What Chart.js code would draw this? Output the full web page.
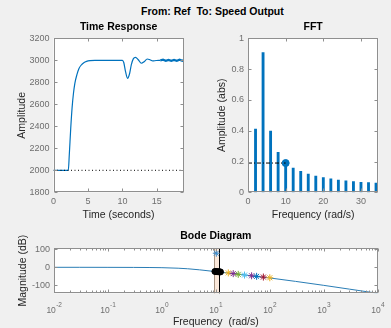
<!DOCTYPE html>
<html>
<head>
<meta charset="utf-8">
<script src="https://cdn.jsdelivr.net/npm/chart.js@4.4.1/dist/chart.umd.min.js"></script>
<style>
  body { margin: 0; background: #f0f0f0; width: 391px; height: 328px; overflow: hidden; position: relative; }
  canvas { position: absolute; }
  #sup { position: absolute; left: 141px; top: 4px; font: bold 10.5px "Liberation Sans", Arial, sans-serif; line-height: 14px; white-space: pre; color: #000; }
</style>
</head>
<body>
<div id="sup">From: Ref  To: Speed Output</div>
<canvas id="timeChart" width="192" height="224" style="left:0;top:0"></canvas>
<canvas id="fftChart" width="196" height="224" style="left:195px;top:0"></canvas>
<canvas id="bodeChart" width="391" height="103" style="left:0;top:225px"></canvas>
<script>
// time response
const timeSec = [0, 2.15, 2.3, 2.5, 2.7, 2.9, 3.1, 3.4, 3.7, 4.0, 4.4, 4.8, 5.3, 6.0, 10.0, 10.2, 10.45, 10.75, 11.05, 11.3, 11.6, 11.9, 12.3, 12.75, 13.2, 13.6, 14.0, 14.4, 14.9, 15.5];
const timeAmp = [2000, 2000, 2150, 2380, 2570, 2700, 2790, 2870, 2925, 2955, 2978, 2990, 2997, 3000, 3000, 2980, 2900, 2836, 2880, 2960, 3015, 3027, 3005, 2973, 2990, 3012, 3005, 2994, 2998, 3000];
const tailSec = [15.5, 15.9, 16.3, 16.7, 17.1, 17.5, 17.9, 18.3, 18.7, 18.9];
const tailAmp = [3000, 3005, 2996, 3004, 2996, 3004, 2996, 3005, 2995, 3000];
const refSec = [0, 18.9];
const refAmp = [2000, 2000];
const timeTicksX = [0, 5, 10, 15];
const timeTicksY = [1800, 2000, 2200, 2400, 2600, 2800, 3000, 3200];

// fft
const fftFreq = [2, 4, 6, 8, 10, 12, 14, 16, 18, 20, 22, 24, 26, 28, 30, 32, 34];
const fftAmp = [0.41, 0.908, 0.397, 0.26, 0.19, 0.158, 0.136, 0.119, 0.106, 0.095, 0.087, 0.08, 0.074, 0.069, 0.065, 0.063, 0.06];
const cursorFreq = [0, 10];
const cursorAmp = [0.19, 0.19];
const fftTicksX = [0, 10, 20, 30];
const fftTicksY = [0, 0.2, 0.4, 0.6, 0.8, 1];

// bode
const bodeFreq = [0.01, 0.03, 0.1, 0.3, 0.6, 1, 2, 3, 5, 10, 20, 30, 50, 100, 300, 1000, 3000, 10000];
const bodeMag = [0, 0, -0.2, -0.6, -1.2, -2, -5, -8, -14, -24, -34, -40, -49, -59, -78, -100, -121, -144];
const blobFreq = [9.6, 10.1, 10.6, 11.1, 11.6, 12.2];
const blobMag = [-23, -23.5, -24, -24.5, -25, -25.5];
const starFreq = [17, 21, 26, 34, 46, 57, 76, 100];
const starMag = [-31, -35, -39, -43, -47, -50, -54, -58];
const starColors = ['#EDB120', '#7E2F8E', '#77AC30', '#4DBEEE', '#7E2F8E', '#0072BD', '#A2142F', '#EDB120'];
const peakFreq = [10.2];
const peakMag = [78];
const bandFreq = [9.3, 11.4];
const bodeExponents = [-2, -1, 0, 1, 2, 3, 4];
const bodeTicksY = [-100, 0, 100];

const family = '"Liberation Sans", Arial, Helvetica, sans-serif';
const tickColor = '#6e6e6e';
const boxColor = '#8f8f8f';
const labelColor = '#262626';
const lineBlue = '#0072BD';
Chart.defaults.font.family = family;
Chart.defaults.animation = false;

const pts = (xs, ys) => xs.map((x, i) => ({ x: x, y: ys[i] }));

// white axes background, box and inward ticks like matlab
const axesBox = {
  id: 'axesBox',
  beforeDraw(chart) {
    const { ctx, chartArea: a } = chart;
    ctx.save();
    ctx.fillStyle = '#fff';
    ctx.fillRect(a.left, a.top, a.width, a.height);
    ctx.restore();
  },
  afterDraw(chart, args, opts) {
    const { ctx, chartArea: a, scales } = chart;
    const L = Math.round(a.left) + 0.5, R = Math.round(a.right) - 0.5;
    const T = Math.round(a.top) + 0.5, B = Math.round(a.bottom) - 0.5;
    ctx.save();
    ctx.strokeStyle = boxColor;
    ctx.lineWidth = 1;
    ctx.strokeRect(L, T, R - L, B - T);
    const seg = (x1, y1, x2, y2) => { ctx.beginPath(); ctx.moveTo(x1, y1); ctx.lineTo(x2, y2); ctx.stroke(); };
    const xTick = (v, len) => {
      const px = Math.round(scales.x.getPixelForValue(v)) + 0.5;
      seg(px, B, px, B - len); seg(px, T, px, T + len);
    };
    scales.x.ticks.forEach(t => xTick(t.value, 3));
    (opts.minorX || []).forEach(v => xTick(v, 2));
    scales.y.ticks.forEach(t => {
      const py = Math.round(scales.y.getPixelForValue(t.value)) + 0.5;
      seg(L, py, L + 3, py); seg(R, py, R - 3, py);
    });
    ctx.restore();
  }
};
Chart.register(axesBox);

const titleOpts = (text, top, bottom) => ({
  display: true, text: text, color: '#000', fullSize: false,
  font: { size: 10.5, weight: 'bold' }, padding: { top: top, bottom: bottom }
});
const axisTitle = (text, pad) => ({ display: true, text: text, color: labelColor, font: { size: 10.5 }, padding: pad });
const tickOpts = { color: tickColor, font: { size: 9 }, padding: 4, callback: v => String(v) };
const noGrid = { display: false, drawTicks: false };

new Chart(document.getElementById('timeChart'), {
  type: 'line',
  data: {
    datasets: [
      { data: pts(refSec, refAmp), borderColor: '#000', borderWidth: 1, borderDash: [1, 2.5], pointRadius: 0 },
      { data: pts(timeSec, timeAmp), borderColor: lineBlue, borderWidth: 1.2, pointRadius: 0, cubicInterpolationMode: 'monotone' },
      { data: pts(tailSec, tailAmp), borderColor: lineBlue, borderWidth: 2.2, pointRadius: 0 },
    ],
  },
  options: {
    responsive: false,
    layout: { padding: { right: 8.3 } },
    plugins: { legend: { display: false }, tooltip: { enabled: false }, title: titleOpts('Time Response', 21, 4.7) },
    scales: {
      x: {
        type: 'linear', min: 0, max: 18.9,
        afterBuildTicks: s => { s.ticks = timeTicksX.map(v => ({ value: v })); },
        afterFit: s => { s.height = 31.7; },
        ticks: tickOpts, grid: noGrid, border: { display: false },
        title: axisTitle('Time (seconds)', { top: 0, bottom: 2.2 }),
      },
      y: {
        min: 1800, max: 3200,
        afterBuildTicks: s => { s.ticks = timeTicksY.map(v => ({ value: v })); },
        afterFit: s => { s.width = 53.5; },
        ticks: tickOpts, grid: noGrid, border: { display: false },
        title: axisTitle('Amplitude', { top: 15.4, bottom: 0 }),
      },
    },
  },
});

new Chart(document.getElementById('fftChart'), {
  type: 'bar',
  data: {
    datasets: [
      { type: 'line', data: pts(cursorFreq, cursorAmp), borderColor: '#000', borderWidth: 1, borderDash: [4, 2, 1, 2], pointRadius: 0 },
      { type: 'line', data: pts([cursorFreq[1]], [cursorAmp[1]]), showLine: false, pointRadius: 3.5, backgroundColor: lineBlue, borderColor: lineBlue },
      { type: 'bar', data: pts(fftFreq, fftAmp), backgroundColor: lineBlue, barThickness: 2.2 },
    ],
  },
  options: {
    responsive: false,
    layout: { padding: { right: 12.7 } },
    plugins: { legend: { display: false }, tooltip: { enabled: false }, title: titleOpts('FFT', 21, 4.7) },
    scales: {
      x: {
        type: 'linear', min: 0, max: 34.6, offset: false,
        afterBuildTicks: s => { s.ticks = fftTicksX.map(v => ({ value: v })); },
        afterFit: s => { s.height = 31.7; },
        ticks: tickOpts, grid: { display: false, drawTicks: false, offset: false }, border: { display: false },
        title: axisTitle('Frequency (rad/s)', { top: 0, bottom: 2.2 }),
      },
      y: {
        min: 0, max: 1,
        afterBuildTicks: s => { s.ticks = fftTicksY.map(v => ({ value: v })); },
        afterFit: s => { s.width = 53; },
        ticks: tickOpts, grid: noGrid, border: { display: false },
        title: axisTitle('Amplitude (abs)', { top: 21.2, bottom: 0 }),
      },
    },
  },
});

// shaded marker band around 10 rad/s
const bandPlugin = {
  id: 'band',
  beforeDatasetsDraw(chart) {
    const { ctx, chartArea: a, scales: { x } } = chart;
    const x1 = x.getPixelForValue(bandFreq[0]), x2 = x.getPixelForValue(bandFreq[1]);
    ctx.save();
    ctx.fillStyle = '#fbe8da';
    ctx.fillRect(x1, a.top, x2 - x1, a.height);
    ctx.lineWidth = 1;
    ctx.strokeStyle = '#a89482';
    ctx.beginPath(); ctx.moveTo(Math.round(x1) + 0.5, a.top); ctx.lineTo(Math.round(x1) + 0.5, a.bottom); ctx.stroke();
    ctx.strokeStyle = '#000';
    ctx.beginPath(); ctx.moveTo(Math.round(x2) + 0.5, a.top); ctx.lineTo(Math.round(x2) + 0.5, a.bottom); ctx.stroke();
    ctx.restore();
  }
};

// 10^n tick labels
const decadeLabels = {
  id: 'decadeLabels',
  afterDraw(chart) {
    const { ctx, chartArea: a, scales: { x } } = chart;
    ctx.save();
    ctx.fillStyle = tickColor;
    ctx.textBaseline = 'alphabetic';
    bodeExponents.forEach(e => {
      const px = x.getPixelForValue(Math.pow(10, e));
      const sup = String(e);
      ctx.font = '8.5px ' + family;
      const wb = ctx.measureText('10').width;
      ctx.font = '6.5px ' + family;
      const ws = ctx.measureText(sup).width;
      const x0 = px - (wb + ws) / 2;
      ctx.font = '8.5px ' + family;
      ctx.fillText('10', x0, a.bottom + 19.7);
      ctx.font = '6.5px ' + family;
      ctx.fillText(sup, x0 + wb + 0.3, a.bottom + 14);
    });
    ctx.restore();
  }
};

const minorFreq = [];
bodeExponents.slice(0, -1).forEach(e => {
  for (let m = 2; m <= 9; m++) minorFreq.push(m * Math.pow(10, e));
});

new Chart(document.getElementById('bodeChart'), {
  type: 'line',
  data: {
    datasets: [
      { data: pts(peakFreq, peakMag), showLine: false, pointStyle: 'star', pointRadius: 3.5, borderWidth: 1, borderColor: '#3d8ccc' },
      { data: pts(starFreq, starMag), showLine: false, pointStyle: 'star', pointRadius: 3.5, borderWidth: 1, borderColor: starColors },
      { data: pts(blobFreq, blobMag), showLine: false, pointRadius: 3, backgroundColor: '#000', borderColor: '#000' },
      { data: pts(bodeFreq, bodeMag), borderColor: '#2a7db5', borderWidth: 1, pointRadius: 0, cubicInterpolationMode: 'monotone' },
    ],
  },
  options: {
    responsive: false,
    layout: { padding: { right: 13.3 } },
    plugins: { legend: { display: false }, tooltip: { enabled: false }, title: titleOpts('Bode Diagram', 5, 5.4), axesBox: { minorX: minorFreq } },
    scales: {
      x: {
        type: 'logarithmic', min: 0.01, max: 10000,
        afterBuildTicks: s => { s.ticks = bodeExponents.map(e => ({ value: Math.pow(10, e) })); },
        afterFit: s => { s.height = 34.7; },
        ticks: { display: false }, grid: noGrid, border: { display: false },
        title: axisTitle('Frequency  (rad/s)', { top: 0, bottom: 0 }),
      },
      y: {
        min: -144, max: 107,
        afterBuildTicks: s => { s.ticks = bodeTicksY.map(v => ({ value: v })); },
        afterFit: s => { s.width = 54; },
        ticks: tickOpts, grid: noGrid, border: { display: false },
        title: axisTitle('Magnitude (dB)', { top: 16.5, bottom: 0 }),
      },
    },
  },
  plugins: [bandPlugin, decadeLabels],
});
</script>
</body>
</html>
